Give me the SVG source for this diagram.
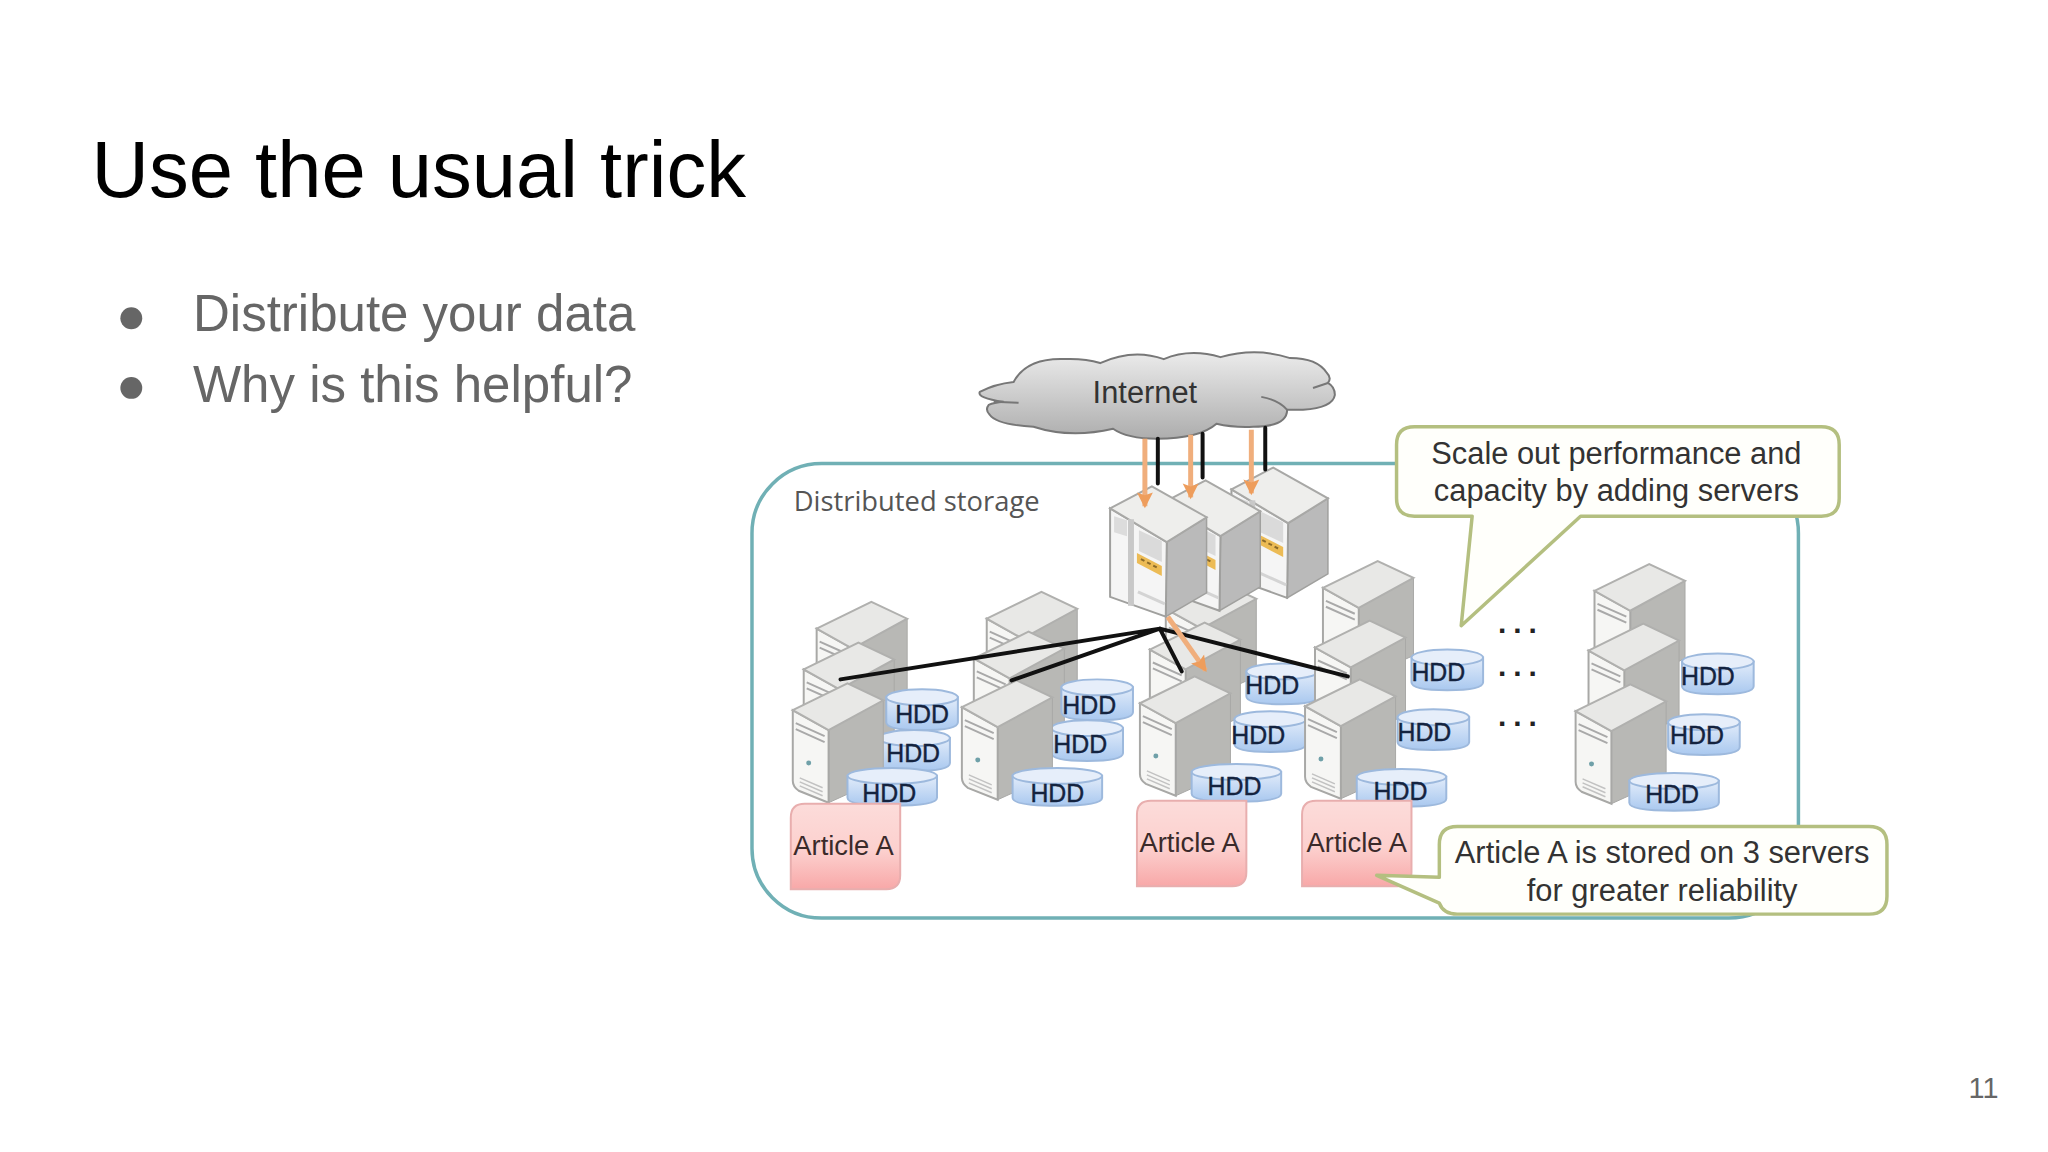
<svg xmlns="http://www.w3.org/2000/svg" width="2048" height="1152" viewBox="0 0 2048 1152">
<style>
text{font-family:"Liberation Sans",Arial,sans-serif}
.title{font-size:80px;fill:#000}
.bul{font-size:51.3px;fill:#666}
.num{font-size:29px;fill:#666}
.hdd{font-size:25px;fill:#14233f;stroke:#14233f;stroke-width:.4;text-anchor:middle}
.art{font-size:27.5px;fill:#3a2a2a;text-anchor:middle}
.call{font-size:31px;fill:#333;text-anchor:middle}
.net{font-size:31px;fill:#333;text-anchor:middle}
.ds{font-size:27.5px;fill:#555;font-family:"Open Sans",sans-serif}
.dots{font-size:30px;font-weight:bold;fill:#222;letter-spacing:7px;text-anchor:middle}
.bubble{fill:#fffffb;stroke:#b4bf80;stroke-width:3.5;stroke-linejoin:round}
.k{stroke:#111;stroke-width:4;fill:none;stroke-linecap:round}
.o{stroke:#f0ae7c;stroke-width:5;fill:none;marker-end:url(#oa)}
</style>
<defs>
<marker id="oa" markerUnits="userSpaceOnUse" markerWidth="20" markerHeight="20" refX="14" refY="9" orient="auto"><path d="M0 1L16 9L0 17L3 9Z" fill="#ee9d5c"/></marker>
<linearGradient id="cl" x1="0" y1="0" x2="0" y2="1"><stop offset="0" stop-color="#ebebeb"/><stop offset="1" stop-color="#adadad"/></linearGradient>
<linearGradient id="hd" x1="0" y1="0" x2="0" y2="1"><stop offset="0" stop-color="#e2ecfa"/><stop offset="1" stop-color="#a9c8ef"/></linearGradient>
<linearGradient id="ar" x1="0" y1="0" x2="0" y2="1"><stop offset="0" stop-color="#fcdcda"/><stop offset=".55" stop-color="#fcd0ce"/><stop offset="1" stop-color="#f8a8a8"/></linearGradient>
<g id="srv">
<path d="M36 47L91 17V95L36 120Z" fill="#b8b8b5" stroke="#a8a8a6"/>
<path d="M0 27L36 47V120L6 108Q0 104 0 98Z" fill="#f6f6f4" stroke="#a8a8a6" stroke-width="2"/>
<path d="M0 27L55 0L91 17L36 47Z" fill="#e8e8e6" stroke="#b0b0ae" stroke-width="2"/>
<path d="M3 40L32 53M3 46L32 59" stroke="#a9a9a9" stroke-width="2" fill="none"/>
<circle cx="16" cy="80" r="2.5" fill="#6fa0a8"/>
<path d="M7 95L30 105M7 99L30 109M7 103L30 113" stroke="#c2c2c2" stroke-width="1.5" fill="none"/>
</g>
<g id="fe">
<path d="M57 56L97 31V107L56 131Z" fill="#bababa" stroke="#a0a09e" stroke-width="1.5"/>
<path d="M0 22L57 56L56 131L0 111Z" fill="#f5f5f5" stroke="#a0a09e" stroke-width="2"/>
<path d="M0 22L42 0L97 31L57 56Z" fill="#eeeeec" stroke="#a8a8a6" stroke-width="2"/>
<path d="M21 33V120" stroke="#c8c8c8" stroke-width="6"/>
<path d="M29 44L52 55V76L29 65Z" fill="#dadada"/>
<path d="M27 67L52 80V90L27 77Z" fill="#ecbb55"/>
<path d="M31 73L48 82" stroke="#8a6a2a" stroke-width="2" stroke-dasharray="4 3"/>
<path d="M4 30L17 34V50L4 46Z" fill="#dcdcdc"/>
<path d="M28 106L55 118" stroke="#d4d4d4" stroke-width="3"/>
</g>
<g id="hdA">
<path d="M1 9V34Q1 42 37 42Q73 42 73 34V9Z" fill="url(#hd)" stroke="#9db9dd" stroke-width="2"/>
<ellipse cx="37" cy="9" rx="36" ry="8" fill="#e6eefa" stroke="#9db9dd" stroke-width="2"/>
</g>
<g id="hdB">
<path d="M1 9V31Q1 39 46 39Q91 39 91 31V9Z" fill="url(#hd)" stroke="#9db9dd" stroke-width="2"/>
<ellipse cx="46" cy="9" rx="45" ry="8" fill="#e6eefa" stroke="#9db9dd" stroke-width="2"/>
</g>
<path id="artS" d="M14 0H110V72Q110 86 96 86H0V14Q0 0 14 0Z" fill="url(#ar)" stroke="#e8aeae" stroke-width="2"/>
</defs>
<rect width="2048" height="1152" fill="#fff"/>
<g transform="scale(.9947)">
<text class="title" x="92" y="198">Use the usual trick</text>
<g id="bullets">
<circle cx="132" cy="320" r="11" fill="#666"/><text class="bul" x="194" y="333">Distribute your data</text>
<circle cx="132" cy="390" r="11" fill="#666"/><text class="bul" x="194" y="404">Why is this helpful?</text>
</g>
<text class="num" x="1979" y="1104">11</text>
<g id="storage">
<rect x="756" y="466" width="1052" height="457" rx="70" fill="#fff" stroke="#70b0b5" stroke-width="3.5"/>
<text class="ds" x="798" y="514">Distributed storage</text>
</g>
<g id="cloud">
<path d="M985 394Q1000 386 1019 384Q1032 360 1069 361Q1090 360 1106 365Q1139 350 1170 361Q1196 350 1227 359Q1263 349 1297 360Q1324 360 1334 375Q1339 380 1335 385Q1342 389 1342 397Q1340 410 1310 412H1294Q1294 429 1260 429Q1240 430 1223 426Q1206 441 1163 441Q1133 441 1119 431Q1076 441 1039 429Q1002 427 995 417Q990 412 994 407Q999 405 1009 404Q982 400 985 394Z" fill="url(#cl)" stroke="#777" stroke-width="2"/>
<path d="M999 404L1024 405M1268 399Q1285 402 1294 412M1320 390L1335 385" stroke="#777" stroke-width="2" fill="none"/>
<text class="net" x="1151" y="405">Internet</text>
</g>
<g id="server-1c"><use href="#srv" x="821" y="605"/></g>
<g id="server-1b"><use href="#srv" x="808" y="646"/></g>
<g id="hdd-1a"><use href="#hdA" x="890" y="692"/><text class="hdd" x="927" y="727">HDD</text></g>
<g id="hdd-1b"><use href="#hdA" x="882" y="733"/><text class="hdd" x="918" y="766">HDD</text></g>
<g id="server-1a"><use href="#srv" x="797" y="687"/></g>
<g id="hdd-1c"><use href="#hdB" x="851" y="771"/><text class="hdd" x="894" y="806">HDD</text></g>
<g id="server-2c"><use href="#srv" x="992" y="595"/></g>
<g id="server-2b"><use href="#srv" x="979" y="635"/></g>
<g id="hdd-2a"><use href="#hdA" x="1066" y="682"/><text class="hdd" x="1095" y="718">HDD</text></g>
<g id="hdd-2b"><use href="#hdA" x="1056" y="723"/><text class="hdd" x="1086" y="757">HDD</text></g>
<g id="server-2a"><use href="#srv" x="967" y="684"/></g>
<g id="hdd-2c"><use href="#hdB" x="1017" y="771"/><text class="hdd" x="1063" y="806">HDD</text></g>
<g id="server-3c"><use href="#srv" x="1172" y="585"/></g>
<g id="server-3b"><use href="#srv" x="1156" y="626"/></g>
<g id="hdd-3a"><use href="#hdA" x="1252" y="666"/><text class="hdd" x="1279" y="698">HDD</text></g>
<g id="hdd-3b"><use href="#hdA" x="1240" y="714"/><text class="hdd" x="1265" y="748">HDD</text></g>
<g id="server-3a"><use href="#srv" x="1146" y="680"/></g>
<g id="hdd-3c"><use href="#hdB" x="1197" y="767"/><text class="hdd" x="1241" y="799">HDD</text></g>
<g id="frontend-3"><use href="#fe" x="1238" y="470"/></g>
<g id="frontend-2"><use href="#fe" x="1170" y="483"/></g>
<g id="frontend-1"><use href="#fe" x="1116" y="489"/></g>
<g id="server-4c"><use href="#srv" x="1330" y="564"/></g>
<g id="server-4b"><use href="#srv" x="1322" y="624"/></g>
<g id="hdd-4a"><use href="#hdA" x="1418" y="652"/><text class="hdd" x="1446" y="685">HDD</text></g>
<g id="hdd-4b"><use href="#hdA" x="1404" y="712"/><text class="hdd" x="1432" y="745">HDD</text></g>
<g id="server-4a"><use href="#srv" x="1312" y="683"/></g>
<g id="hdd-4c"><use href="#hdB" x="1363" y="772"/><text class="hdd" x="1408" y="804">HDD</text></g>
<g id="server-5c"><use href="#srv" x="1603" y="567"/></g>
<g id="server-5b"><use href="#srv" x="1597" y="627"/></g>
<g id="hdd-5a"><use href="#hdA" x="1690" y="656"/><text class="hdd" x="1717" y="689">HDD</text></g>
<g id="hdd-5b"><use href="#hdA" x="1676" y="717"/><text class="hdd" x="1706" y="748">HDD</text></g>
<g id="server-5a"><use href="#srv" x="1584" y="688"/></g>
<g id="hdd-5c"><use href="#hdB" x="1637" y="776"/><text class="hdd" x="1681" y="807">HDD</text></g>
<text class="dots" x="1529" y="636">...</text>
<text class="dots" x="1529" y="680">...</text>
<text class="dots" x="1529" y="730">...</text>
<g id="connectors">
<path class="k" d="M1164 441V486M1209 436V480M1272 430V472"/>
<path class="o" d="M1151 441V509"/>
<path class="o" d="M1197 437V500"/>
<path class="o" d="M1258 432V496"/>
<path class="k" d="M845 683L1166 632L1017 684M1166 632L1188 675M1166 632L1355 680"/>
<path class="o" d="M1174 620L1212 674"/>
</g>
<g id="article-1"><use href="#artS" x="795" y="808"/><text class="art" x="848" y="860">Article A</text></g>
<g id="article-2"><use href="#artS" x="1143" y="805"/><text class="art" x="1196" y="857">Article A</text></g>
<g id="article-3"><use href="#artS" x="1309" y="805"/><text class="art" x="1364" y="857">Article A</text></g>
<g id="callout-scale">
<path class="bubble" d="M1422 429H1831Q1849 429 1849 447V501Q1849 519 1831 519H1589L1469 629L1480 519H1422Q1404 519 1404 501V447Q1404 429 1422 429Z"/>
<text class="call" x="1625" y="466">Scale out performance and</text>
<text class="call" x="1625" y="504">capacity by adding servers</text>
</g>
<g id="callout-article">
<path class="bubble" d="M1465 831H1879Q1897 831 1897 849V901Q1897 919 1879 919H1465Q1451 919 1447 908L1384 880L1447 882V849Q1447 831 1465 831Z"/>
<text class="call" x="1671" y="868">Article A is stored on 3 servers</text>
<text class="call" x="1671" y="906">for greater reliability</text>
</g>
</g>
</svg>
